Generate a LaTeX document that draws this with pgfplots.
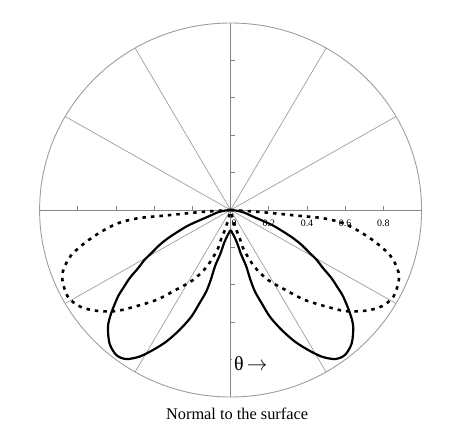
\documentclass[border=0pt]{standalone}
\usepackage{fontspec}
\setmainfont{Liberation Serif}
\usepackage{pgfplots}
\usepackage{pgfplotstable}
\pgfplotsset{compat=1.18}

\definecolor{spoke}{gray}{0.62}
\definecolor{axisgray}{gray}{0.52}

% right-hand lobes, traced from the centre (x, y in units of the outer circle);
% the left-hand lobes are their mirror images
\pgfplotstableread{
x y
0 0
0.028 -0.003
0.066 -0.012
0.119 -0.036
0.171 -0.059
0.224 -0.084
0.276 -0.116
0.328 -0.151
0.372 -0.187
0.416 -0.232
0.451 -0.267
0.485 -0.312
0.528 -0.364
0.562 -0.417
0.590 -0.464
0.625 -0.552
0.642 -0.624
0.634 -0.713
0.599 -0.775
0.547 -0.797
0.477 -0.784
0.407 -0.749
0.337 -0.704
0.268 -0.642
0.206 -0.571
0.163 -0.499
0.128 -0.437
0.104 -0.374
0.081 -0.299
0.054 -0.235
0.034 -0.176
0.015 -0.134
0 -0.107
}\solidtab

\pgfplotstableread{
x y
0 0
0.159 -0.011
0.336 -0.029
0.485 -0.044
0.590 -0.071
0.677 -0.116
0.756 -0.170
0.826 -0.232
0.861 -0.285
0.882 -0.348
0.873 -0.410
0.852 -0.464
0.817 -0.499
0.765 -0.526
0.684 -0.541
0.596 -0.540
0.489 -0.513
0.384 -0.479
0.283 -0.425
0.196 -0.374
0.126 -0.305
0.070 -0.214
0.048 -0.151
0.030 -0.107
0.013 -0.053
0 0
}\dottedtab

\begin{document}
\begin{tikzpicture}
\begin{axis}[
    set layers,
    at={(0,0)}, anchor=origin,
    scale only axis,
    width=382bp, height=374bp,
    xmin=-1, xmax=1, ymin=-1, ymax=1,
    axis lines=middle,
    axis line style={axisgray, line width=1bp, -},
    xtick={-0.8,-0.6,-0.4,-0.2,0,0.2,0.4,0.6,0.8},
    xticklabels={,,,,\hspace{7bp}0,0.2,0.4,0.6,0.8},
    ytick={-0.8,-0.6,-0.4,-0.2,0.2,0.4,0.6,0.8},
    yticklabels={},
    hide obscured x ticks=false,
    tick align=inside,
    major tick length=4bp,
    tick style={axisgray, line width=0.8bp},
    x tick label style={font=\fontsize{10}{12}\selectfont, inner sep=1bp, yshift=-9bp},
    clip=false,
]
% spokes every 30 degrees and the unit circle
\draw[spoke, line width=0.7bp]
    (axis cs:0,0) -- (axis cs:0.866,0.5)
    (axis cs:0,0) -- (axis cs:0.5,0.866)
    (axis cs:0,0) -- (axis cs:-0.5,0.866)
    (axis cs:0,0) -- (axis cs:-0.866,0.5)
    (axis cs:0,0) -- (axis cs:-0.866,-0.5)
    (axis cs:0,0) -- (axis cs:-0.5,-0.866)
    (axis cs:0,0) -- (axis cs:0.5,-0.866)
    (axis cs:0,0) -- (axis cs:0.866,-0.5);
\draw[spoke, line width=0.9bp] (axis cs:0,0) ellipse [x radius=191bp, y radius=187bp];

% solid lobes
\addplot[black, line width=2.2bp, smooth]
    table[x=x, y=y] {\solidtab};
\addplot[black, line width=2.2bp, smooth]
    table[x expr=-\thisrow{x}, y=y] {\solidtab};

% dotted lobes
\addplot[black, line width=2.6bp, smooth, dash pattern=on 3.5bp off 5bp]
    table[x=x, y=y] {\dottedtab};
\addplot[black, line width=2.6bp, smooth, dash pattern=on 3.5bp off 5bp]
    table[x expr=-\thisrow{x}, y=y] {\dottedtab};

\begin{pgfonlayer}{axis foreground}
\node[fill=white, inner xsep=2bp, inner ysep=6bp, font=\fontsize{20}{24}\selectfont]
    at (axis cs:0.106,-0.82) {θ\,$\rightarrow$};
\end{pgfonlayer}
\node[font=\fontsize{16.4}{19}\selectfont] at (axis cs:0.034,-1.092) {Normal to the surface};
\end{axis}
\pgfresetboundingbox
\path[use as bounding box] (-230.6bp,-229bp) rectangle (243.4bp,210bp);
\end{tikzpicture}
\end{document}
